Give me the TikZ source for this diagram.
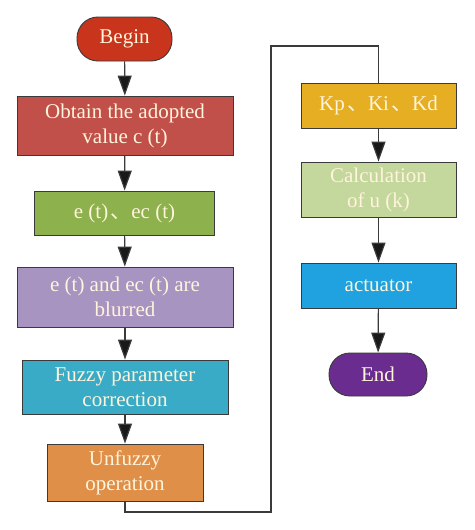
\documentclass[tikz,border=0pt]{standalone}
\usepackage{fontspec}
\setmainfont{Liberation Serif}
\newfontfamily\cjk{Noto Sans CJK SC}
\usetikzlibrary{arrows.meta}
\newcommand{\dun}{\kern0.1em{\cjk 、}}
\definecolor{txt}{HTML}{FFF4DC}
\definecolor{cBegin}{HTML}{C8341C}
\definecolor{cObtain}{HTML}{C2504A}
\definecolor{cE}{HTML}{8DB14C}
\definecolor{cBlur}{HTML}{A794C1}
\definecolor{cFuzzy}{HTML}{3AABC6}
\definecolor{cUnf}{HTML}{DF8F48}
\definecolor{cK}{HTML}{E5AE23}
\definecolor{cCalc}{HTML}{C4D79C}
\definecolor{cAct}{HTML}{20A2E0}
\definecolor{cEnd}{HTML}{6B2C8F}
\definecolor{edge}{HTML}{3A3A3A}
\tikzset{
  box/.style={draw=edge, line width=0.9pt, text=txt, align=center, inner sep=0pt,
    font=\fontsize{21}{25}\selectfont},
  term/.style={box, rounded corners=21pt},
  arr/.style={draw=edge, line width=1.2pt, -{Triangle[length=20pt,width=14pt,fill=black!90]}},
  link/.style={draw=edge, line width=1.2pt}
}
\begin{document}
\begin{tikzpicture}[x=1pt,y=-1pt]
\useasboundingbox (0,0) rectangle (474,530);
\node[term, fill=cBegin, minimum width=95pt, minimum height=44pt] (begin) at (124.5,39) {Begin};
\node[box, fill=cObtain, minimum width=216pt, minimum height=59pt] (obtain) at (125,125.5) {Obtain the adopted\\value c (t)};
\node[box, fill=cE, minimum width=180pt, minimum height=44pt] (e) at (124.5,213) {e (t)\dun ec (t)};
\node[box, fill=cBlur, minimum width=216pt, minimum height=60pt] (blur) at (125,297) {e (t) and ec (t) are\\blurred};
\node[box, fill=cFuzzy, minimum width=206pt, minimum height=54pt] (fuzzy) at (125,387) {Fuzzy parameter\\correction};
\node[box, fill=cUnf, minimum width=156pt, minimum height=57pt] (unf) at (125,472.5) {Unfuzzy\\operation};
\node[box, fill=cK, minimum width=155pt, minimum height=45pt] (k) at (378.5,105.5) {Kp\dun Ki\dun Kd};
\node[box, fill=cCalc, minimum width=155pt, minimum height=55pt] (calc) at (378.5,189.5) {Calculation\\of u (k)};
\node[box, fill=cAct, minimum width=155pt, minimum height=45pt] (act) at (378.5,285.5) {actuator};
\node[term, fill=cEnd, minimum width=98pt, minimum height=43pt] (end) at (378,374.5) {End};
\coordinate (c1) at (271,512);
\coordinate (c2) at (271,46);
\draw[arr] (begin) -- (obtain);
\draw[arr] (obtain) -- (e);
\draw[arr] (e) -- (blur);
\draw[arr] (blur) -- (fuzzy);
\draw[arr] (fuzzy) -- (unf);
\draw[link] (unf.south) |- (c1) -- (c2) -| (k.north);
\draw[arr] (k) -- (calc);
\draw[arr] (calc) -- (act);
\draw[arr] (act) -- (end);
\end{tikzpicture}
\end{document}
